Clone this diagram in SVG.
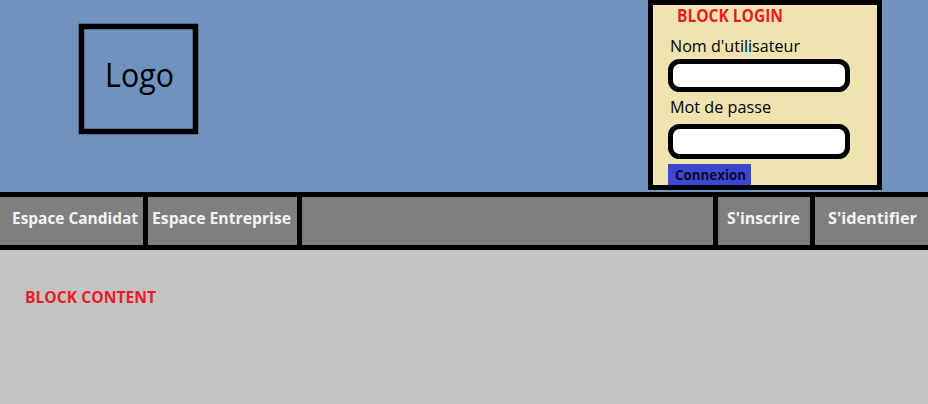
<svg xmlns="http://www.w3.org/2000/svg" width="928" height="404" viewBox="0 0 928 404">
<style>
text{font-family:"Open Sans","Noto Sans","Liberation Sans",sans-serif}
.red{fill:#ED1C24;font-weight:bold}
.nav{fill:#7F7F7F}
.navt{fill:#F4F4F4;font-weight:bold;font-size:16px}
.lbl{fill:#000;font-size:16.5px}
.inp{fill:#fff;stroke:#000;stroke-width:5}
</style>
<rect x="0" y="0" width="928" height="192" fill="#7092BE"/>
<rect x="0" y="250" width="928" height="154" fill="#C3C3C3"/>
<g id="logo">
<rect x="81.5" y="26.5" width="114" height="105" fill="none" stroke="#000" stroke-width="5.5"/>
<text x="105" y="87" font-size="32.5" textLength="69" lengthAdjust="spacingAndGlyphs" fill="#000">Logo</text>
</g>
<g id="block-login">
<rect x="650.5" y="2.5" width="229" height="185" fill="#EFE4B0" stroke="#000" stroke-width="5"/>
<text class="red" x="677" y="22" font-size="18.5" textLength="106" lengthAdjust="spacingAndGlyphs">BLOCK LOGIN</text>
<text class="lbl" x="670" y="52" textLength="130" lengthAdjust="spacingAndGlyphs">Nom d'utilisateur</text>
<rect class="inp" x="670.5" y="61.5" width="177" height="28" rx="9"/>
<text class="lbl" x="670" y="113" textLength="101" lengthAdjust="spacingAndGlyphs">Mot de passe</text>
<rect class="inp" x="670.5" y="126.5" width="177" height="30" rx="9"/>
<rect x="668" y="164" width="83" height="21" fill="#3F48CC"/>
<text x="675" y="180" font-size="13.5" font-weight="bold" fill="#0A0A30" textLength="71" lengthAdjust="spacingAndGlyphs">Connexion</text>
</g>
<g id="nav-bar">
<rect x="0" y="192" width="928" height="58" fill="#000"/>
<rect class="nav" x="0" y="197" width="143" height="48"/>
<rect class="nav" x="148" y="197" width="149" height="48"/>
<rect class="nav" x="302" y="197" width="411" height="48"/>
<rect class="nav" x="718" y="197" width="92" height="48"/>
<rect class="nav" x="815" y="197" width="113" height="48"/>
</g>
<g id="espace-candidat"><text class="navt" x="12" y="223.5" textLength="126" lengthAdjust="spacingAndGlyphs">Espace Candidat</text></g>
<g id="espace-entreprise"><text class="navt" x="152" y="223.5" textLength="139" lengthAdjust="spacingAndGlyphs">Espace Entreprise</text></g>
<g id="sinscrire"><text class="navt" x="727" y="223.5" textLength="73" lengthAdjust="spacingAndGlyphs">S'inscrire</text></g>
<g id="sidentifier"><text class="navt" x="828" y="223.5" textLength="89" lengthAdjust="spacingAndGlyphs">S'identifier</text></g>
<g id="block-content">
<text class="red" x="25" y="303" font-size="15.5" textLength="131" lengthAdjust="spacingAndGlyphs">BLOCK CONTENT</text>
</g>
</svg>
